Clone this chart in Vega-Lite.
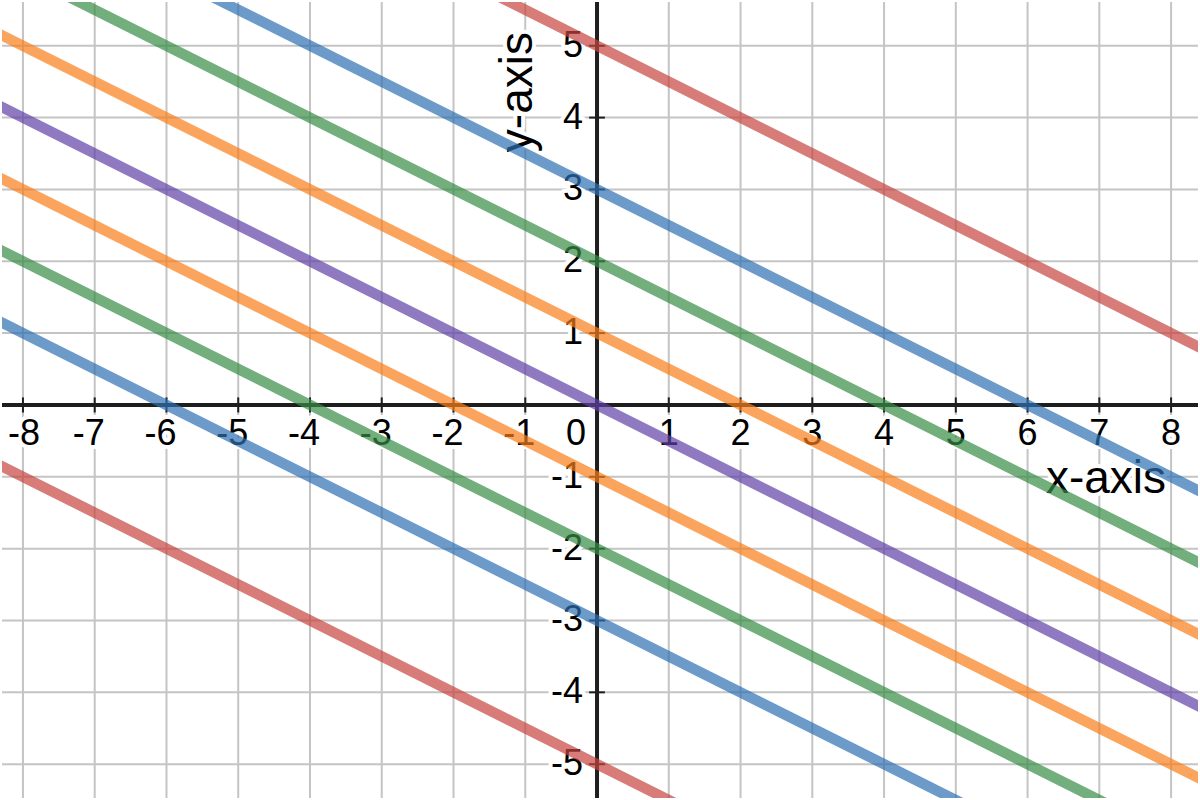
{
  "$schema": "https://vega.github.io/schema/vega-lite/v6.json",
  "width": 1200,
  "height": 800,
  "padding": 0,
  "autosize": {"type": "fit", "contains": "padding"},
  "background": "#ffffff",
  "view": {"stroke": null},
  "config": {"axis": {"disable": true}},
  "datasets": {
    "xgrid": [{"v": -8}, {"v": -7}, {"v": -6}, {"v": -5}, {"v": -4}, {"v": -3}, {"v": -2}, {"v": -1}, {"v": 0}, {"v": 1}, {"v": 2}, {"v": 3}, {"v": 4}, {"v": 5}, {"v": 6}, {"v": 7}, {"v": 8}],
    "ygrid": [{"v": -5}, {"v": -4}, {"v": -3}, {"v": -2}, {"v": -1}, {"v": 0}, {"v": 1}, {"v": 2}, {"v": 3}, {"v": 4}, {"v": 5}],
    "xlab": [
      {"v": -8, "t": "-8"}, {"v": -7, "t": "-7"}, {"v": -6, "t": "-6"}, {"v": -5, "t": "-5"},
      {"v": -4, "t": "-4"}, {"v": -3, "t": "-3"}, {"v": -2, "t": "-2"}, {"v": -1, "t": "-1"},
      {"v": 1, "t": "1"}, {"v": 2, "t": "2"}, {"v": 3, "t": "3"}, {"v": 4, "t": "4"},
      {"v": 5, "t": "5"}, {"v": 6, "t": "6"}, {"v": 7, "t": "7"}, {"v": 8, "t": "8"}
    ],
    "ylab": [
      {"v": -5, "t": "-5"}, {"v": -4, "t": "-4"}, {"v": -3, "t": "-3"}, {"v": -2, "t": "-2"}, {"v": -1, "t": "-1"},
      {"v": 1, "t": "1"}, {"v": 2, "t": "2"}, {"v": 3, "t": "3"}, {"v": 4, "t": "4"}, {"v": 5, "t": "5"}
    ],
    "lines": [
      {"k": "b5", "x": -9, "y": 9.5}, {"k": "b5", "x": 9, "y": 0.5},
      {"k": "b3", "x": -9, "y": 7.5}, {"k": "b3", "x": 9, "y": -1.5},
      {"k": "b2", "x": -9, "y": 6.5}, {"k": "b2", "x": 9, "y": -2.5},
      {"k": "b1", "x": -9, "y": 5.5}, {"k": "b1", "x": 9, "y": -3.5},
      {"k": "b0", "x": -9, "y": 4.5}, {"k": "b0", "x": 9, "y": -4.5},
      {"k": "bm1", "x": -9, "y": 3.5}, {"k": "bm1", "x": 9, "y": -5.5},
      {"k": "bm2", "x": -9, "y": 2.5}, {"k": "bm2", "x": 9, "y": -6.5},
      {"k": "bm3", "x": -9, "y": 1.5}, {"k": "bm3", "x": 9, "y": -7.5},
      {"k": "bm5", "x": -9, "y": -0.5}, {"k": "bm5", "x": 9, "y": -9.5}
    ]
  },
  "resolve": {"scale": {"x": "shared", "y": "shared"}},
  "layer": [
    {
      "data": {"name": "xgrid"},
      "mark": {"type": "rule", "color": "#c4c4c4", "strokeWidth": 2},
      "encoding": {"x": {"field": "v", "type": "quantitative", "scale": {"domain": [-8.292, 8.375], "nice": false, "zero": false}}}
    },
    {
      "data": {"name": "ygrid"},
      "mark": {"type": "rule", "color": "#c4c4c4", "strokeWidth": 2},
      "encoding": {"y": {"field": "v", "type": "quantitative", "scale": {"domain": [-5.471, 5.609], "nice": false, "zero": false}}}
    },
    {
      "data": {"values": [{}]},
      "mark": {"type": "rule", "color": "#1e1e1e", "strokeWidth": 4},
      "encoding": {"y": {"datum": 0}}
    },
    {
      "data": {"values": [{}]},
      "mark": {"type": "rule", "color": "#1e1e1e", "strokeWidth": 4},
      "encoding": {"x": {"datum": 0}}
    },
    {
      "data": {"name": "xlab"},
      "mark": {"type": "rule", "color": "#1e1e1e", "strokeWidth": 2},
      "encoding": {
        "x": {"field": "v", "type": "quantitative"},
        "y": {"datum": -0.105},
        "y2": {"datum": 0.105}
      }
    },
    {
      "data": {"name": "ylab"},
      "mark": {"type": "rule", "color": "#1e1e1e", "strokeWidth": 2},
      "encoding": {
        "y": {"field": "v", "type": "quantitative"},
        "x": {"datum": -0.11},
        "x2": {"datum": 0.11}
      }
    },
    {
      "data": {"name": "xlab"},
      "transform": [{"filter": "datum.v > 0"}],
      "encoding": {
        "x": {"field": "v", "type": "quantitative"},
        "y": {"datum": 0},
        "text": {"field": "t"}
      },
      "layer": [
        {"mark": {"type": "text", "font": "Liberation Sans", "fontSize": 36, "align": "center", "baseline": "alphabetic", "dy": 40, "color": "#ffffff", "stroke": "#ffffff", "strokeWidth": 8, "strokeJoin": "round"}},
        {"mark": {"type": "text", "font": "Liberation Sans", "fontSize": 36, "align": "center", "baseline": "alphabetic", "dy": 40, "color": "#000000"}}
      ]
    },
    {
      "data": {"name": "xlab"},
      "transform": [{"filter": "datum.v < 0 && datum.v > -8"}],
      "encoding": {
        "x": {"field": "v", "type": "quantitative"},
        "y": {"datum": 0},
        "text": {"field": "t"}
      },
      "layer": [
        {"mark": {"type": "text", "font": "Liberation Sans", "fontSize": 36, "align": "right", "baseline": "alphabetic", "dx": 10, "dy": 40, "color": "#ffffff", "stroke": "#ffffff", "strokeWidth": 8, "strokeJoin": "round"}},
        {"mark": {"type": "text", "font": "Liberation Sans", "fontSize": 36, "align": "right", "baseline": "alphabetic", "dx": 10, "dy": 40, "color": "#000000"}}
      ]
    },
    {
      "data": {"name": "xlab"},
      "transform": [{"filter": "datum.v == -8"}],
      "encoding": {
        "x": {"field": "v", "type": "quantitative"},
        "y": {"datum": 0},
        "text": {"field": "t"}
      },
      "layer": [
        {"mark": {"type": "text", "font": "Liberation Sans", "fontSize": 36, "align": "left", "baseline": "alphabetic", "dx": -15, "dy": 40, "color": "#ffffff", "stroke": "#ffffff", "strokeWidth": 8, "strokeJoin": "round"}},
        {"mark": {"type": "text", "font": "Liberation Sans", "fontSize": 36, "align": "left", "baseline": "alphabetic", "dx": -15, "dy": 40, "color": "#000000"}}
      ]
    },
    {
      "data": {"values": [{"t": "0"}]},
      "encoding": {
        "x": {"datum": 0},
        "y": {"datum": 0},
        "text": {"field": "t"}
      },
      "layer": [
        {"mark": {"type": "text", "font": "Liberation Sans", "fontSize": 36, "align": "center", "baseline": "alphabetic", "dx": -21, "dy": 40, "color": "#ffffff", "stroke": "#ffffff", "strokeWidth": 8, "strokeJoin": "round"}},
        {"mark": {"type": "text", "font": "Liberation Sans", "fontSize": 36, "align": "center", "baseline": "alphabetic", "dx": -21, "dy": 40, "color": "#000000"}}
      ]
    },
    {
      "data": {"name": "ylab"},
      "encoding": {
        "y": {"field": "v", "type": "quantitative"},
        "x": {"datum": 0},
        "text": {"field": "t"}
      },
      "layer": [
        {"mark": {"type": "text", "font": "Liberation Sans", "fontSize": 36, "align": "right", "baseline": "middle", "dx": -14, "color": "#ffffff", "stroke": "#ffffff", "strokeWidth": 8, "strokeJoin": "round"}},
        {"mark": {"type": "text", "font": "Liberation Sans", "fontSize": 36, "align": "right", "baseline": "middle", "dx": -14, "color": "#000000"}}
      ]
    },
    {
      "data": {"values": [{"t": "x-axis"}]},
      "encoding": {
        "x": {"datum": 8.375},
        "y": {"datum": 0},
        "text": {"field": "t"}
      },
      "layer": [
        {"mark": {"type": "text", "font": "Liberation Sans", "fontSize": 46, "align": "right", "baseline": "alphabetic", "dx": -32, "dy": 88, "color": "#ffffff", "stroke": "#ffffff", "strokeWidth": 8, "strokeJoin": "round"}},
        {"mark": {"type": "text", "font": "Liberation Sans", "fontSize": 46, "align": "right", "baseline": "alphabetic", "dx": -32, "dy": 88, "color": "#000000"}}
      ]
    },
    {
      "data": {"values": [{"t": "y-axis"}]},
      "encoding": {
        "x": {"datum": 0},
        "y": {"datum": 5.609},
        "text": {"field": "t"}
      },
      "layer": [
        {"mark": {"type": "text", "font": "Liberation Sans", "fontSize": 46, "angle": 270, "align": "right", "baseline": "alphabetic", "dx": -30, "dy": -65, "color": "#ffffff", "stroke": "#ffffff", "strokeWidth": 8, "strokeJoin": "round"}},
        {"mark": {"type": "text", "font": "Liberation Sans", "fontSize": 46, "angle": 270, "align": "right", "baseline": "alphabetic", "dx": -30, "dy": -65, "color": "#000000"}}
      ]
    },
    {
      "data": {"name": "lines"},
      "mark": {"type": "line", "strokeWidth": 10.5, "opacity": 0.7, "clip": true},
      "encoding": {
        "x": {"field": "x", "type": "quantitative"},
        "y": {"field": "y", "type": "quantitative"},
        "color": {
          "field": "k",
          "type": "nominal",
          "legend": null,
          "scale": {
            "domain": ["b5", "b3", "b2", "b1", "b0", "bm1", "bm2", "bm3", "bm5"],
            "range": ["#c74440", "#2d70b3", "#388c46", "#fa7e19", "#6042a6", "#fa7e19", "#388c46", "#2d70b3", "#c74440"]
          }
        }
      }
    }
  ]
}
